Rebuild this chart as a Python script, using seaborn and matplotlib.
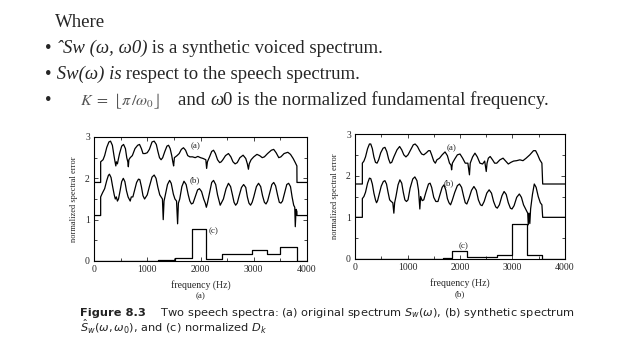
import matplotlib
matplotlib.use('Agg')
import matplotlib.pyplot as plt
import seaborn as sns

# ---- spectra (Hz, normalized spectral error) ----
left_a_f = [0, 125, 125, 170, 200, 240, 280, 310, 345, 375, 395, 410, 420, 440, 455, 480, 520, 555, 590, 615,
            635, 645, 655, 680, 720, 770, 820, 855, 890, 920, 960, 1000, 1040, 1090, 1130, 1170, 1200, 1230,
            1260, 1290, 1330, 1370, 1400, 1430, 1460, 1480, 1495, 1510, 1560, 1600, 1640, 1680, 1720, 1760,
            1800, 1850, 1900, 1950, 2000, 2050, 2100, 2115, 2130, 2170, 2210, 2245, 2280, 2320, 2360, 2390,
            2420, 2470, 2525, 2570, 2610, 2650, 2690, 2740, 2800, 2850, 2880, 2900, 2915, 2950, 3000, 3060,
            3110, 3160, 3200, 3260, 3330, 3375, 3420, 3470, 3510, 3570, 3640, 3690, 3740, 3780, 3810, 3812, 4000]
left_a_v = [1.9, 1.9, 2.4, 2.45, 2.55, 2.75, 2.88, 2.9, 2.8, 2.55, 2.4, 2.3, 2.4, 2.35, 2.45, 2.6, 2.78, 2.82, 2.72, 2.5,
            2.4, 2.28, 2.45, 2.5, 2.55, 2.72, 2.8, 2.82, 2.72, 2.6, 2.6, 2.62, 2.7, 2.88, 2.9, 2.82, 2.65, 2.5,
            2.45, 2.5, 2.65, 2.78, 2.8, 2.72, 2.55, 2.4, 2.3, 2.5, 2.55, 2.6, 2.7, 2.74, 2.68, 2.55,
            2.52, 2.52, 2.5, 2.53, 2.5, 2.48, 2.45, 2.24, 2.4, 2.52, 2.65, 2.68, 2.6, 2.45, 2.38, 2.4,
            2.45, 2.55, 2.6, 2.52, 2.4, 2.35, 2.38, 2.5, 2.56, 2.48, 2.35, 2.22, 2.35, 2.45, 2.52, 2.58,
            2.55, 2.5, 2.52, 2.6, 2.68, 2.7, 2.62, 2.5, 2.52, 2.6, 2.63, 2.58, 2.48, 2.38, 2.3, 1.9, 1.9]

left_b_f = [0, 125, 125, 160, 200, 240, 270, 290, 320, 350, 380, 400, 420, 440, 460, 490, 520, 550, 580, 610,
            640, 660, 680, 700, 730, 760, 800, 835, 860, 890, 920, 950, 975, 1000, 1040, 1090, 1130, 1165,
            1200, 1235, 1260, 1285, 1300, 1315, 1340, 1380, 1420, 1450, 1490, 1520, 1550, 1570, 1585, 1610,
            1650, 1690, 1730, 1770, 1800, 1830, 1860, 1900, 1945, 1980, 2020, 2060, 2090, 2110, 2130, 2170,
            2210, 2245, 2285, 2320, 2350, 2370, 2390, 2430, 2480, 2525, 2565, 2600, 2630, 2660, 2690, 2720,
            2770, 2810, 2850, 2880, 2910, 2940, 2970, 3000, 3050, 3090, 3130, 3165, 3200, 3230, 3260, 3300,
            3340, 3375, 3410, 3450, 3480, 3510, 3540, 3580, 3620, 3655, 3690, 3720, 3750, 3770, 3780, 3795,
            3810, 3812, 4000]
left_b_v = [1.1, 1.1, 1.55, 1.65, 1.75, 1.95, 2.07, 2.1, 2.02, 1.8, 1.6, 1.5, 1.55, 1.45, 1.5, 1.7, 1.92, 2.0, 1.92, 1.7,
            1.55, 1.5, 1.45, 1.55, 1.55, 1.7, 1.9, 1.98, 1.97, 1.8, 1.58, 1.5, 1.55, 1.6, 1.8, 2.03, 2.08, 2.0,
            1.78, 1.6, 1.55, 1.5, 1.0, 1.45, 1.6, 1.85, 1.95, 1.88, 1.62, 1.5, 1.45, 0.9, 1.4, 1.5,
            1.8, 1.93, 1.85, 1.6, 1.45, 1.38, 1.4, 1.55, 1.72, 1.75, 1.68, 1.5, 1.4, 1.3, 1.4, 1.65,
            1.9, 1.95, 1.85, 1.6, 1.45, 1.35, 1.4, 1.5, 1.75, 1.88, 1.8, 1.6, 1.42, 1.35, 1.4, 1.55,
            1.78, 1.85, 1.78, 1.55, 1.4, 1.35, 1.42, 1.55, 1.8, 1.88, 1.8, 1.58, 1.42, 1.38, 1.45, 1.65,
            1.85, 1.9, 1.82, 1.58, 1.42, 1.4, 1.45, 1.65, 1.85, 1.88, 1.8, 1.55, 1.35, 1.3, 0.83, 1.25,
            1.2, 1.1, 1.1]

left_c_edges = [0, 700, 1200, 1524, 1837, 2107, 2401, 2684, 2966, 3248, 3499, 3812, 4000]
left_c_vals = [0.0, 0.01, 0.02, 0.065, 0.78, 0.05, 0.18, 0.16, 0.27, 0.18, 0.33, 0.0, 0.0]

right_a_f = [0, 140, 140, 170, 200, 240, 275, 300, 330, 360, 390, 420, 450, 490, 535, 570, 605, 640, 670, 700,
             740, 800, 850, 890, 930, 970, 1010, 1060, 1110, 1145, 1190, 1230, 1270, 1310, 1360, 1400, 1430,
             1460, 1500, 1530, 1560, 1610, 1660, 1715, 1760, 1800, 1830, 1840, 1855, 1900, 1950, 2000, 2050,
             2100, 2150, 2180, 2195, 2240, 2285, 2330, 2380, 2430, 2470, 2500, 2515, 2540, 2575, 2620, 2660,
             2700, 2760, 2820, 2870, 2920, 2970, 3020, 3080, 3140, 3200, 3260, 3330, 3400, 3440, 3480, 3520,
             3560, 3575, 4000]
right_a_v = [1.8, 1.8, 2.3, 2.35, 2.45, 2.65, 2.76, 2.76, 2.65, 2.45, 2.32, 2.3, 2.38, 2.55, 2.66, 2.68, 2.58, 2.4, 2.3, 2.32,
             2.45, 2.62, 2.7, 2.62, 2.5, 2.45, 2.5, 2.62, 2.74, 2.76, 2.7, 2.6, 2.52, 2.5, 2.55, 2.6, 2.6,
             2.5, 2.35, 2.3, 2.38, 2.42, 2.5, 2.57, 2.48, 2.3, 2.25, 2.14, 2.3, 2.4, 2.5, 2.52, 2.42,
             2.3, 2.3, 2.02, 2.3, 2.45, 2.54, 2.45, 2.3, 2.28, 2.35, 2.1, 2.3, 2.42, 2.46, 2.38, 2.3,
             2.3, 2.38, 2.42, 2.35, 2.28, 2.32, 2.35, 2.36, 2.38, 2.36, 2.42, 2.5, 2.6, 2.6, 2.5, 2.38,
             2.3, 1.8, 1.8]

right_b_f = [0, 140, 140, 170, 200, 240, 275, 300, 330, 360, 390, 410, 430, 460, 500, 540, 570, 600, 630, 660,
             690, 720, 740, 755, 780, 820, 855, 890, 920, 950, 980, 1010, 1050, 1100, 1140, 1180, 1210, 1235,
             1250, 1280, 1310, 1350, 1400, 1430, 1460, 1500, 1540, 1580, 1620, 1660, 1695, 1730, 1760, 1790,
             1820, 1850, 1900, 1950, 1990, 2030, 2070, 2100, 2130, 2170, 2220, 2265, 2310, 2350, 2390, 2420,
             2460, 2510, 2555, 2600, 2640, 2680, 2710, 2750, 2800, 2840, 2880, 2920, 2960, 2990, 3030, 3080,
             3130, 3170, 3210, 3250, 3290, 3300, 3315, 3330, 3345, 3380, 3415, 3450, 3490, 3530, 3560, 3575,
             4000]
right_b_v = [1.0, 1.0, 1.45, 1.5, 1.6, 1.82, 1.94, 1.93, 1.8, 1.58, 1.42, 1.35, 1.4, 1.55, 1.75, 1.86, 1.88, 1.8, 1.6, 1.42,
             1.38, 1.35, 1.1, 1.35, 1.5, 1.78, 1.9, 1.82, 1.6, 1.42, 1.38, 1.42, 1.7, 1.92, 1.97, 1.88, 1.65, 1.2,
             1.5, 1.4, 1.42, 1.6, 1.8, 1.82, 1.72, 1.48, 1.38, 1.38, 1.55, 1.72, 1.78, 1.65, 1.45, 1.35,
             1.3, 1.4, 1.6, 1.76, 1.8, 1.72, 1.5, 1.35, 1.32, 1.45, 1.65, 1.74, 1.65, 1.42, 1.3, 1.28,
             1.38, 1.58, 1.66, 1.58, 1.38, 1.25, 1.22, 1.3, 1.52, 1.62, 1.55, 1.35, 1.22, 1.2, 1.28, 1.48,
             1.56, 1.48, 1.3, 1.2, 1.1, 0.82, 1.1, 0.85, 1.2, 1.55, 1.8, 1.72, 1.5, 1.35, 1.3, 1.0,
             1.0]

right_c_edges = [0, 1683, 1842, 2127, 2699, 2985, 3270, 3556, 4000]
right_c_vals = [0.005, 0.02, 0.2, 0.05, 0.1, 0.85, 0.1, 0.0, 0.0]

x_ticks = [0, 1000, 2000, 3000, 4000]
y_ticks = [0, 1, 2, 3]

W, H = 638, 359
sns.set_theme(style='ticks')
plt.rcParams['font.family'] = ['Liberation Serif', 'DejaVu Serif']
plt.rcParams['mathtext.fontset'] = 'dejavusans'

fig = plt.figure(figsize=(W / 100, H / 100), dpi=100)
fig.patch.set_facecolor('white')


def px_axes(l, t, r, b):
    return fig.add_axes([l / W, 1 - b / H, (r - l) / W, (b - t) / H])


def draw_panel(ax, af, av, bf, bv, ce, cv, labels, sub):
    sns.lineplot(x=af, y=av, ax=ax, color='black', lw=0.9, sort=False, estimator=None)
    sns.lineplot(x=bf, y=bv, ax=ax, color='black', lw=0.9, sort=False, estimator=None)
    sns.lineplot(x=ce, y=cv, ax=ax, color='black', lw=0.9, sort=False, estimator=None,
                 drawstyle='steps-post')
    ax.set_xlim(0, 4000)
    ax.set_ylim(0, 3)
    ax.set_xticks(x_ticks)
    ax.set_xticks(range(0, 4001, 500), minor=True)
    ax.set_yticks(y_ticks)
    ax.set_yticks([0.5, 1.5, 2.5], minor=True)
    ax.tick_params(which='both', direction='in', top=True, right=True, labelsize=7, width=0.6, pad=3)
    ax.tick_params(which='major', length=3)
    ax.tick_params(which='minor', length=2)
    for s in ax.spines.values():
        s.set_linewidth(0.8)
        s.set_color('black')
    ax.set_xlabel('frequency (Hz)', fontsize=7, labelpad=4)
    ax.set_ylabel('normalized spectral error', fontsize=6, labelpad=5)
    for lab, (fx, fy) in labels.items():
        ax.text(fx, fy, lab, fontsize=6.5, ha='center', va='center')
    ax.text(0.5, -0.28, sub, transform=ax.transAxes, fontsize=6.5, ha='center', va='center')


ax1 = px_axes(94, 137, 307, 261)
draw_panel(ax1, left_a_f, left_a_v, left_b_f, left_b_v, left_c_edges, left_c_vals,
           {'(a)': (1900, 2.78), '(b)': (1900, 1.95), '(c)': (2245, 0.72)}, '(a)')
ax2 = px_axes(355, 134, 565, 259)
draw_panel(ax2, right_a_f, right_a_v, right_b_f, right_b_v, right_c_edges, right_c_vals,
           {'(a)': (1840, 2.65), '(b)': (1778, 1.83), '(c)': (2064, 0.3)}, '(b)')

# ---- slide text ----
renderer = fig.canvas.get_renderer()


def runs(x, y, parts, size=13.5):
    for s, kw in parts:
        t = fig.text(x / W, 1 - y / H, s, va='baseline', fontsize=kw.pop('fontsize', size), **kw)
        x += t.get_window_extent(renderer).width


runs(55, 27, [('Where', {})])
runs(45, 53, [('•', {}), (' ˆSw (ω, ω0)', {'style': 'italic'}), (' is a synthetic voiced spectrum.', {})])
runs(45, 79, [('•', {}), (' Sw(ω) is', {'style': 'italic'}), (' respect to the speech spectrum.', {})])
runs(45, 105, [('•', {}),
               ('       ' + r'$K\ =\ \lfloor\pi\,/\omega_0\rfloor$',
                {'color': '#555555', 'fontsize': 11.5, 'math_fontfamily': 'stix'}),
               ('    and ', {}), ('ω', {'style': 'italic'}), ('0 is the normalized fundamental frequency.', {})])

cap = dict(family=['DejaVu Sans'], fontsize=8.2, color='#222222')
runs(80, 316, [('Figure 8.3', dict(cap, weight='bold')),
               ('    Two speech spectra: (a) original spectrum $S_w(\\omega)$, (b) synthetic spectrum', dict(cap))])
runs(80, 332, [('$\\hat{S}_w(\\omega, \\omega_0)$, and (c) normalized $D_k$', dict(cap))])

fig.savefig('out.png', dpi=100, facecolor='white')
